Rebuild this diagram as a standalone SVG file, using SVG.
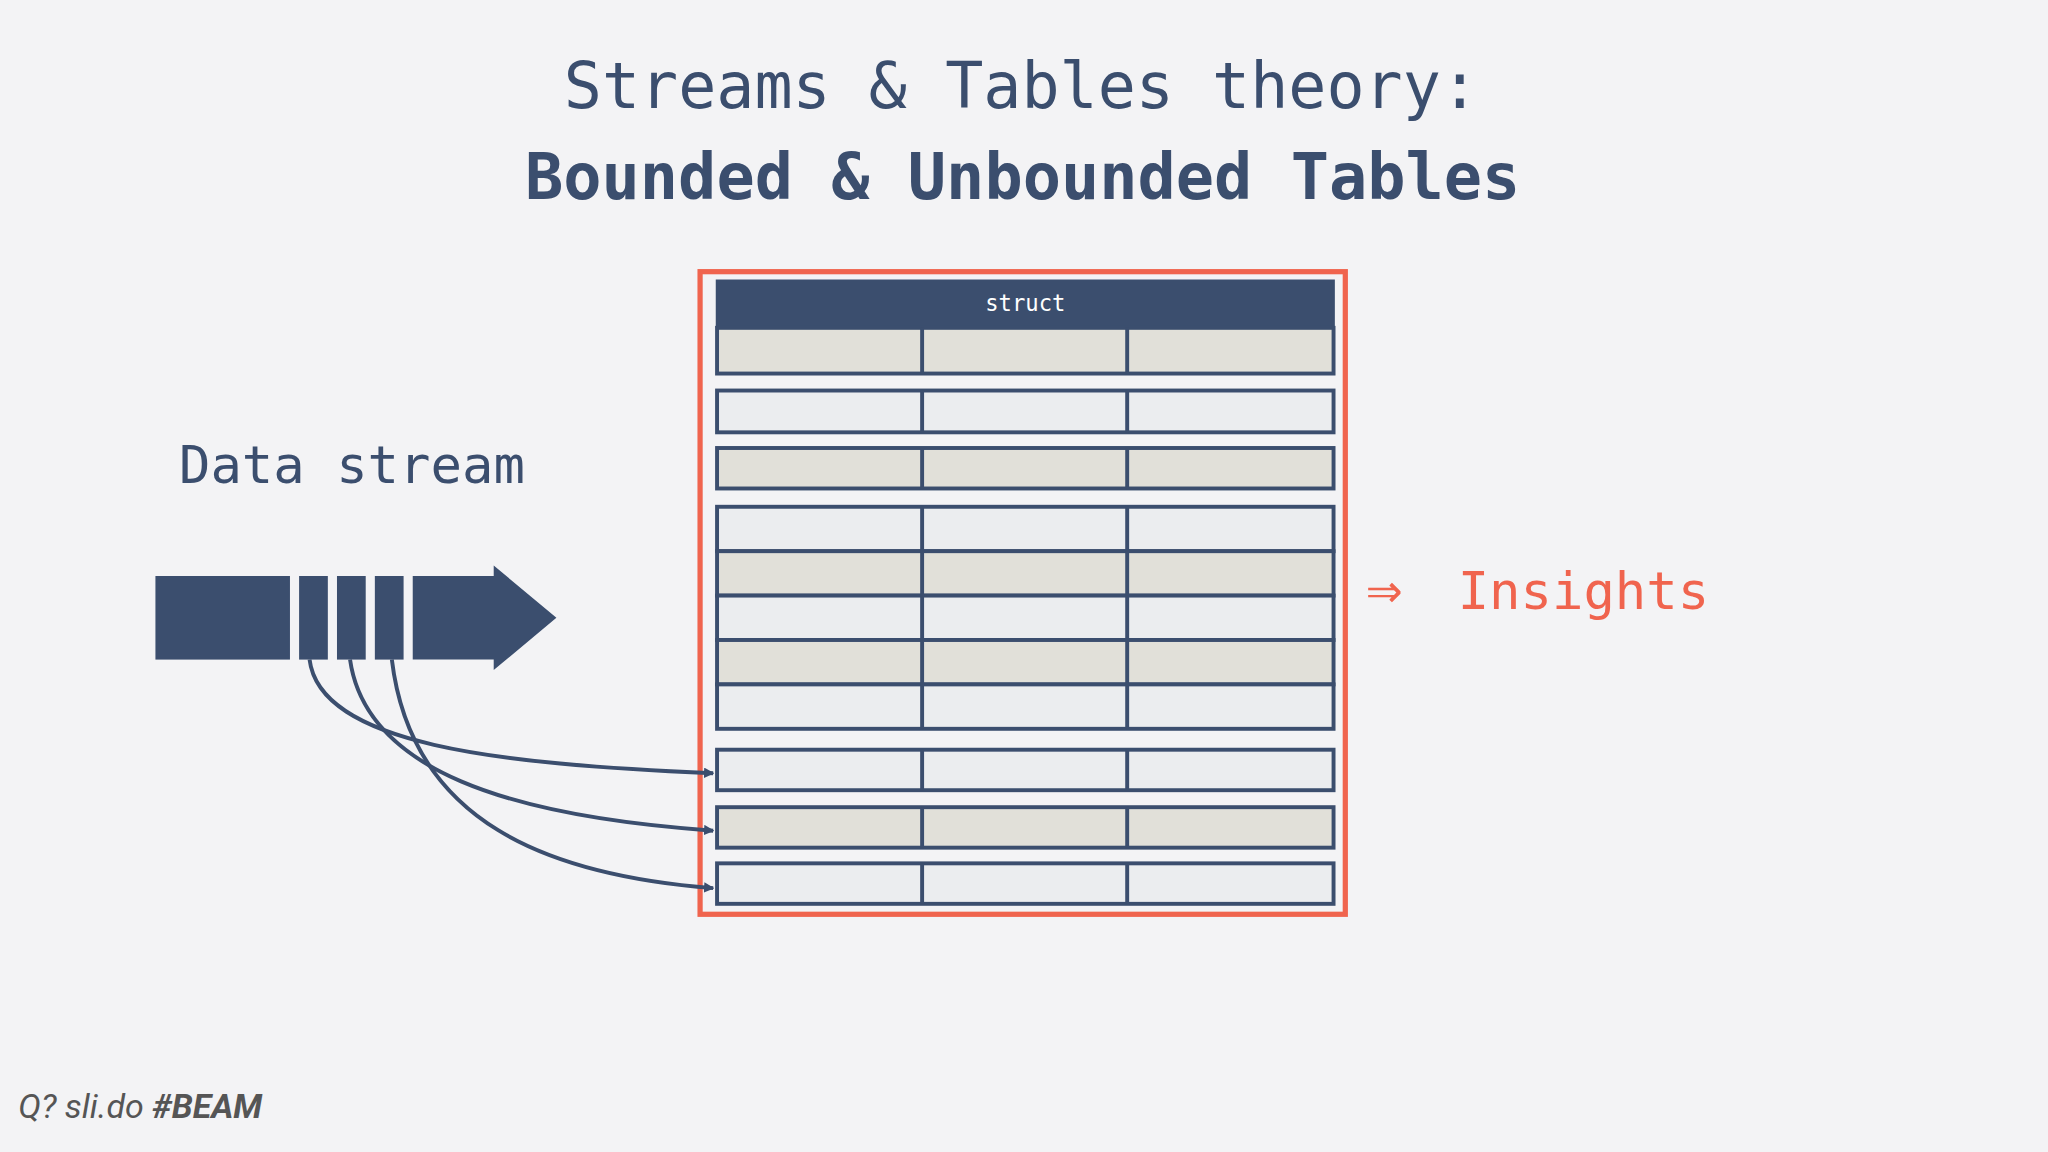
<svg xmlns="http://www.w3.org/2000/svg" width="2048" height="1152" viewBox="0 0 2048 1152">
<style>
.mono{font-family:"DejaVu Sans Mono","Liberation Mono",monospace;fill:#3b4e6e}
.c{stroke:#3b4e6e;stroke-width:3}
.l{fill:#ebedef}.b{fill:#e1e0d9}
.conn{fill:none;stroke:#3b4e6e;stroke-width:3}
</style>
<defs><marker id="ah" markerWidth="8" markerHeight="8" refX="7" refY="4" orient="auto" markerUnits="userSpaceOnUse"><path d="M0,0 L8,4 L0,8 z" fill="#3b4e6e"/></marker></defs>
<rect width="2048" height="1152" fill="#f3f3f5"/>
<g transform="scale(1.30612)">
<g id="title">
<text class="mono" x="782" y="83" font-size="48.5" text-anchor="middle">Streams &amp; Tables theory:</text>
<text class="mono" x="783" y="152" font-size="48.7" font-weight="bold" text-anchor="middle">Bounded &amp; Unbounded Tables</text>
</g>
<g id="label-stream"><text class="mono" x="137" y="370" font-size="40">Data stream</text></g>
<g id="stream" fill="#3b4e6e">
<rect x="119" y="441" width="103" height="64"/>
<rect x="229" y="441" width="22" height="64"/>
<rect x="258" y="441" width="22" height="64"/>
<rect x="287" y="441" width="22" height="64"/>
<path d="M316,441 H378 V433 L426,473 L378,513 V505 H316 Z"/>
</g>
<g id="table">
<rect x="536" y="208" width="494" height="492" fill="none" stroke="#f0644e" stroke-width="4"/>
<rect x="548" y="214" width="474" height="37" fill="#3b4e6e"/>
<text x="785" y="238" font-size="17" fill="#fff" text-anchor="middle" font-family="DejaVu Sans Mono,monospace">struct</text>
<g class="c">
<rect class="b" x="549" y="251" width="472" height="35"/>
<rect class="l" x="549" y="299" width="472" height="32"/>
<rect class="b" x="549" y="343" width="472" height="31"/>
<rect class="l" x="549" y="388" width="472" height="34"/>
<rect class="b" x="549" y="422" width="472" height="34"/>
<rect class="l" x="549" y="456" width="472" height="34"/>
<rect class="b" x="549" y="490" width="472" height="34"/>
<rect class="l" x="549" y="524" width="472" height="34"/>
<rect class="l" x="549" y="574" width="472" height="31"/>
<rect class="b" x="549" y="618" width="472" height="31"/>
<rect class="l" x="549" y="661" width="472" height="31"/>
<path d="M706,251V286M863,251V286M706,299V331M863,299V331M706,343V374M863,343V374M706,388V558M863,388V558M706,574V605M863,574V605M706,618V649M863,618V649M706,661V692M863,661V692" fill="none"/>
</g>
</g>
<g id="connectors">
<path class="conn" marker-end="url(#ah)" d="M237,505 C245,570 380,585 546,592"/>
<path class="conn" marker-end="url(#ah)" d="M268,505 C280,590 390,625 546,636"/>
<path class="conn" marker-end="url(#ah)" d="M300,505 C315,630 420,670 546,680"/>
</g>
<g id="insights" font-family="DejaVu Sans Mono,monospace" fill="#f0644e"><text x="1046" y="466" font-size="40"><tspan font-size="46">⇒</tspan><tspan x="1116">Insights</tspan></text></g>
<g id="footer"><text x="14" y="856" font-size="26" font-style="italic" fill="#555" font-family="Roboto,sans-serif">Q? sli.do <tspan font-weight="bold">#BEAM</tspan></text></g>
</g>
</svg>
